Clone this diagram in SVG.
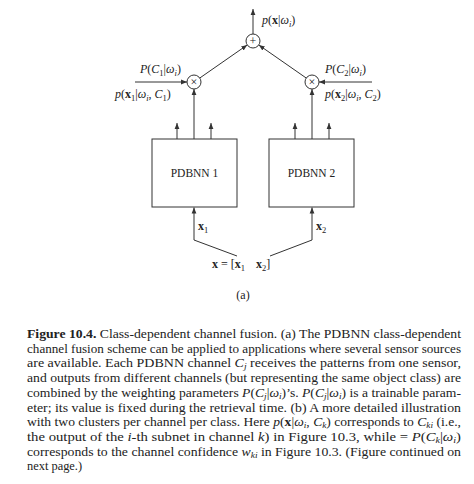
<svg xmlns="http://www.w3.org/2000/svg" width="474" height="484" viewBox="0 0 474 484">
<defs>
<marker id="ah" markerUnits="userSpaceOnUse" markerWidth="7" markerHeight="6" refX="6" refY="3" orient="auto">
<path d="M0,0.6 L6,3 L0,5.4 Z" fill="#333"/>
</marker>
<style>
.ln{stroke:#333;stroke-width:1;fill:none}
.nd{stroke:#333;stroke-width:1;fill:#fff}
.t{font-family:"Liberation Serif","DejaVu Serif",serif;fill:#222}
.m{font-family:"Liberation Serif","DejaVu Serif",serif;fill:#222;font-size:12px}
.i{font-style:italic}
.b{font-weight:bold}
.s{font-size:8.5px}
.cap{font-family:"Liberation Serif","DejaVu Serif",serif;fill:#222;font-size:12.4px}
</style>
</defs>
<rect width="474" height="484" fill="#fff"/>

<g id="connectors">
<line class="ln" x1="253" y1="34" x2="253" y2="9" marker-end="url(#ah)"/>
<line class="ln" x1="199.8" y1="78" x2="247.2" y2="45" marker-end="url(#ah)"/>
<line class="ln" x1="306.2" y1="78" x2="258.8" y2="45" marker-end="url(#ah)"/>
<line class="ln" x1="135" y1="82" x2="187" y2="82" marker-end="url(#ah)"/>
<line class="ln" x1="372" y1="82" x2="319" y2="82" marker-end="url(#ah)"/>
<line class="ln" x1="194" y1="139" x2="194" y2="89" marker-end="url(#ah)"/>
<line class="ln" x1="312" y1="139" x2="312" y2="89" marker-end="url(#ah)"/>
<line class="ln" x1="177" y1="139" x2="177" y2="123" marker-end="url(#ah)"/>
<line class="ln" x1="211" y1="139" x2="211" y2="123" marker-end="url(#ah)"/>
<line class="ln" x1="295" y1="139" x2="295" y2="123" marker-end="url(#ah)"/>
<line class="ln" x1="329" y1="139" x2="329" y2="123" marker-end="url(#ah)"/>
<polyline class="ln" points="237,256 194,240 194,207.5" marker-end="url(#ah)"/>
<polyline class="ln" points="270,256 312,240 312,207.5" marker-end="url(#ah)"/>
</g>

<g id="sum">
<circle class="nd" cx="253" cy="41" r="7"/>
<text class="m" x="253" y="45" text-anchor="middle">+</text>
</g>
<g id="mult1">
<circle class="nd" cx="194" cy="82" r="7"/>
<text class="m" x="194" y="86" text-anchor="middle">×</text>
</g>
<g id="mult2">
<circle class="nd" cx="312" cy="82" r="7"/>
<text class="m" x="312" y="86" text-anchor="middle">×</text>
</g>
<g id="pdbnn1">
<rect class="nd" x="152" y="139" width="85" height="68"/>
<text class="t" x="194.5" y="177" font-size="11.5" text-anchor="middle">PDBNN 1</text>
</g>
<g id="pdbnn2">
<rect class="nd" x="269" y="139" width="85" height="68"/>
<text class="t" x="311.5" y="177" font-size="11.5" text-anchor="middle">PDBNN 2</text>
</g>

<g id="labels">
<text class="m" x="262" y="24"><tspan class="i">p</tspan>(<tspan class="b">x</tspan>|<tspan class="i">ω</tspan><tspan class="s i" dy="2.5">i</tspan><tspan dy="-2.5">)</tspan></text>
<text class="m" x="140" y="73"><tspan class="i">P</tspan>(<tspan class="i">C</tspan><tspan class="s" dy="2.5">1</tspan><tspan dy="-2.5">|</tspan><tspan class="i">ω</tspan><tspan class="s i" dy="2.5">i</tspan><tspan dy="-2.5">)</tspan></text>
<text class="m" x="115" y="98"><tspan class="i">p</tspan>(<tspan class="b">x</tspan><tspan class="s" dy="2.5">1</tspan><tspan dy="-2.5">|</tspan><tspan class="i">ω</tspan><tspan class="s i" dy="2.5">i</tspan><tspan dy="-2.5">, </tspan><tspan class="i">C</tspan><tspan class="s" dy="2.5">1</tspan><tspan dy="-2.5">)</tspan></text>
<text class="m" x="325" y="73"><tspan class="i">P</tspan>(<tspan class="i">C</tspan><tspan class="s" dy="2.5">2</tspan><tspan dy="-2.5">|</tspan><tspan class="i">ω</tspan><tspan class="s i" dy="2.5">i</tspan><tspan dy="-2.5">)</tspan></text>
<text class="m" x="325" y="98"><tspan class="i">p</tspan>(<tspan class="b">x</tspan><tspan class="s" dy="2.5">2</tspan><tspan dy="-2.5">|</tspan><tspan class="i">ω</tspan><tspan class="s i" dy="2.5">i</tspan><tspan dy="-2.5">, </tspan><tspan class="i">C</tspan><tspan class="s" dy="2.5">2</tspan><tspan dy="-2.5">)</tspan></text>
<text class="m" x="198" y="230"><tspan class="b">x</tspan><tspan class="s" dy="2.5">1</tspan></text>
<text class="m" x="316" y="230"><tspan class="b">x</tspan><tspan class="s" dy="2.5">2</tspan></text>
<text class="m" x="212" y="268"><tspan class="b">x</tspan> = [<tspan class="b">x</tspan><tspan class="s" dy="2.5">1</tspan><tspan class="b" dx="11" dy="-2.5">x</tspan><tspan class="s" dy="2.5">2</tspan><tspan dy="-2.5">]</tspan></text>
<text class="t" x="243" y="299" font-size="12" text-anchor="middle">(a)</text>
</g>

<g id="caption">
<text class="cap" x="27" y="338" textLength="434" lengthAdjust="spacingAndGlyphs"><tspan class="b">Figure 10.4.</tspan> Class-dependent channel fusion. (a) The PDBNN class-dependent</text>
<text class="cap" x="27" y="352.7" textLength="434" lengthAdjust="spacingAndGlyphs">channel fusion scheme can be applied to applications where several sensor sources</text>
<text class="cap" x="27" y="367.4" textLength="434" lengthAdjust="spacingAndGlyphs">are available.  Each PDBNN channel <tspan class="i">C</tspan><tspan class="s i" dy="2">j</tspan><tspan dy="-2"> receives the patterns from one sensor,</tspan></text>
<text class="cap" x="27" y="382.1" textLength="434" lengthAdjust="spacingAndGlyphs">and outputs from different channels (but representing the same object class) are</text>
<text class="cap" x="27" y="396.8" textLength="434" lengthAdjust="spacingAndGlyphs">combined by the weighting parameters <tspan class="i">P</tspan>(<tspan class="i">C</tspan><tspan class="s i" dy="2">j</tspan><tspan dy="-2">|</tspan><tspan class="i">ω</tspan><tspan class="s i" dy="2">i</tspan><tspan dy="-2">)’s. </tspan><tspan class="i">P</tspan>(<tspan class="i">C</tspan><tspan class="s i" dy="2">j</tspan><tspan dy="-2">|</tspan><tspan class="i">ω</tspan><tspan class="s i" dy="2">i</tspan><tspan dy="-2">) is a trainable param-</tspan></text>
<text class="cap" x="27" y="411.5" textLength="434" lengthAdjust="spacingAndGlyphs">eter; its value is fixed during the retrieval time. (b) A more detailed illustration</text>
<text class="cap" x="27" y="426.2" textLength="434" lengthAdjust="spacingAndGlyphs">with two clusters per channel per class. Here <tspan class="i">p</tspan>(<tspan class="b">x</tspan>|<tspan class="i">ω</tspan><tspan class="s i" dy="2">i</tspan><tspan dy="-2">, </tspan><tspan class="i">C</tspan><tspan class="s i" dy="2">k</tspan><tspan dy="-2">) corresponds to </tspan><tspan class="i">C</tspan><tspan class="s i" dy="2">ki</tspan><tspan dy="-2"> (i.e.,</tspan></text>
<text class="cap" x="27" y="440.9" textLength="434" lengthAdjust="spacingAndGlyphs">the output of the <tspan class="i">i</tspan>-th subnet in channel <tspan class="i">k</tspan>) in Figure 10.3, while = <tspan class="i">P</tspan>(<tspan class="i">C</tspan><tspan class="s i" dy="2">k</tspan><tspan dy="-2">|</tspan><tspan class="i">ω</tspan><tspan class="s i" dy="2">i</tspan><tspan dy="-2">)</tspan></text>
<text class="cap" x="27" y="455.6" textLength="434" lengthAdjust="spacingAndGlyphs">corresponds to the channel confidence <tspan class="i">w</tspan><tspan class="s i" dy="2">ki</tspan><tspan dy="-2"> in Figure 10.3. (Figure continued on</tspan></text>
<text class="cap" x="27" y="470.3">next page.)</text>
</g>
</svg>
